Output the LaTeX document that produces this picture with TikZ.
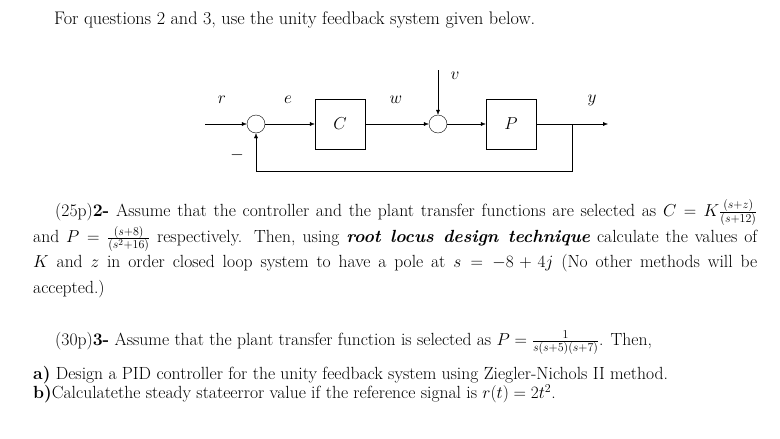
\documentclass[tikz,border=0pt]{standalone}
\usetikzlibrary{arrows.meta}
\begin{document}
\begin{tikzpicture}[x=1pt,y=-1pt,
  blk/.style={draw,minimum width=50pt,minimum height=50pt,inner sep=0pt,font=\fontsize{16}{18}\selectfont},
  sumn/.style={draw,circle,minimum size=18pt,inner sep=0pt},
  sig/.style={-{Latex[length=5pt,width=4pt]}},
  lab/.style={font=\fontsize{16}{18}\selectfont},
  txt/.style={anchor=north west,inner sep=0pt,text width=724pt,align=justify,font=\fontsize{17.6}{25}\selectfont}]
\useasboundingbox (0,0) rectangle (780,439);
\node[anchor=west,inner sep=0pt,font=\fontsize{18.2}{20}\selectfont] (t1) at (54,20) {For questions 2 and 3, use the unity feedback system given below.};
\coordinate (in) at (205,124);
\node[sumn] (s1) at (256,124) {};
\node[blk] (C) at (340,124) {$C$};
\node[sumn] (s2) at (438,124) {};
\node[blk] (P) at (511,124) {$P$};
\coordinate (out) at (608,124);
\coordinate (br) at (572,124);
\coordinate (vin) at (438,70);
\draw[sig] (in) -- (s1);
\draw[sig] (s1) -- (C);
\draw[sig] (C) -- (s2);
\draw[sig] (s2) -- (P);
\draw[sig] (P) -- (out);
\draw[sig] (vin) -- (s2);
\draw[sig] (br) |- (256,171) -- (s1);
\node[lab] (lr) at (222,100) {$r$};
\node[lab] (le) at (288,100) {$e$};
\node[lab] (lw) at (396,100) {$w$};
\node[lab] (lv) at (455,76) {$v$};
\node[lab] (ly) at (592,100) {$y$};
\node[lab] (lm) at (237,155) {$-$};
\node[txt] (p2) at (33,199) {\parindent=22pt\indent (25p)\textbf{2-} Assume that the controller and the plant transfer functions are selected as $C=K\frac{(s+z)}{(s+12)}$\linebreak and $P=\frac{(s+8)}{(s^2+16)}$ respectively. Then, using \textbf{\textit{root locus design technique}} calculate the values of\linebreak $K$ and $z$ in order closed loop system to have a pole at $s=-8+4j$ (No other methods will be\linebreak accepted.)};
\node[anchor=west,inner sep=0pt,font=\fontsize{17.6}{20}\selectfont] (p3) at (55,343) {(30p)\textbf{3-} Assume that the plant transfer function is selected as $P=\frac{1}{s(s+5)(s+7)}$. Then,};
\node[anchor=west,inner sep=0pt,font=\fontsize{17.6}{20}\selectfont] (pa) at (33,375) {\textbf{a)} Design a PID controller for the unity feedback system using Ziegler-Nichols II method.};
\node[anchor=west,inner sep=0pt,font=\fontsize{17.6}{20}\selectfont] (pb) at (33,394) {\textbf{b)}Calculatethe steady stateerror value if the reference signal is $r(t)=2t^2$.};
\end{tikzpicture}
\end{document}
